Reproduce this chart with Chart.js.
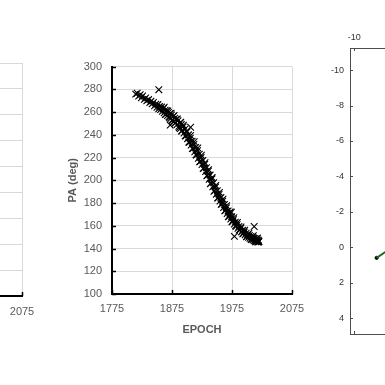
<!DOCTYPE html>
<html>
<head>
<meta charset="utf-8">
<script src="https://cdn.jsdelivr.net/npm/chart.js@4"></script>
<style>
  html, body { margin: 0; padding: 0; background: #fff; }
  body { width: 385px; height: 385px; position: relative; overflow: hidden; }
  canvas { position: absolute; }
</style>
</head>
<body>
<canvas id="leftChart" width="240" height="310" style="left:-200px;top:40px;"></canvas>
<canvas id="paChart" width="250" height="300" style="left:60px;top:50px;"></canvas>
<canvas id="orbitChart" width="400" height="330" style="left:300px;top:20px;"></canvas>
<script>
// --- Data ---

// middle panel: position angle vs epoch
const epochs = [
  1814.5, 1817, 1819.5, 1822, 1824, 1826, 1829, 1831, 1833, 1836,
  1838, 1840, 1842, 1844, 1846, 1848, 1850, 1851.5, 1853, 1854.5,
  1856, 1857.5, 1859, 1860.5, 1862, 1863.5, 1865, 1866, 1867.5, 1869,
  1870, 1871.5, 1873, 1874, 1875.5, 1877, 1878, 1879.5, 1881, 1882,
  1883.5, 1885, 1886.5, 1888, 1889, 1890.5, 1892, 1893.5, 1895, 1896.5,
  1898, 1899.5, 1901, 1902.5, 1904, 1905.5, 1907, 1908.5, 1910, 1911.5,
  1913, 1914.5, 1916, 1917.5, 1919, 1920.5, 1922, 1923.5, 1925, 1926.5,
  1928, 1929.5, 1931, 1932.5, 1934, 1935.5, 1937, 1938.5, 1940, 1941.5,
  1943, 1944.5, 1946, 1947.5, 1949, 1950.5, 1952, 1953.5, 1955, 1956.5,
  1958, 1959.5, 1961, 1962.5, 1964, 1965.5, 1967, 1968.5, 1970, 1971.5,
  1973, 1974.5, 1976, 1977.5, 1979, 1980.5, 1982, 1983.5, 1985, 1986.5,
  1988, 1989.5, 1991, 1992.5, 1994, 1995.5, 1997, 1998.5, 2000, 2001,
  2002.5, 2004, 2005, 2006.5, 2008, 2009, 2010, 2011, 2012, 2013,
  2014, 2015, 2016, 2017, 2018, 2019, 2020,
  // band edges
  1862, 1864, 1868, 1871, 1873.5, 1876, 1878.5, 1880, 1884, 1887,
  1889.5, 1891, 1894, 1897, 1900, 1903, 1906, 1909, 1912, 1915,
  1918, 1921, 1924, 1927, 1930, 1933, 1936, 1939, 1942, 1945,
  1948, 1951, 1954, 1957, 1960, 1963, 1966, 1969, 1972, 1975,
  1978, 1981, 1984, 1987, 1990, 1993, 1996, 1999, 2003, 2007,
  2010.5, 2014, 2017.5, 2019.5,
  // outliers
  1853, 1872, 1906, 1974, 1979, 2012
];
const paDeg = [
  275.8, 276.6, 274.0, 275.2, 272.6, 274.2, 271.2, 272.4, 270.0, 271.0,
  268.4, 269.6, 267.2, 268.4, 265.6, 267.0, 264.2, 266.6, 263.0, 265.0,
  262.2, 264.4, 260.6, 263.0, 259.4, 261.6, 258.2, 261.2, 257.0, 259.6,
  255.8, 258.6, 254.4, 257.4, 253.2, 256.2, 251.6, 254.6, 250.6, 253.8,
  249.0, 252.4, 247.4, 250.2, 245.6, 249.0, 243.8, 247.0, 241.6, 245.0,
  239.0, 242.4, 236.6, 240.0, 233.4, 237.0, 231.0, 234.4, 228.0, 231.6,
  225.0, 228.8, 222.2, 226.0, 219.4, 223.0, 216.6, 220.0, 213.8, 217.4,
  210.8, 214.0, 207.6, 211.0, 204.4, 208.0, 200.8, 204.6, 197.6, 201.2,
  194.2, 197.8, 191.0, 194.0, 187.8, 190.8, 184.6, 187.6, 181.8, 184.8,
  179.0, 181.6, 176.0, 178.8, 173.4, 175.8, 170.8, 173.0, 168.4, 170.4,
  166.0, 168.0, 163.8, 165.4, 161.6, 163.2, 159.6, 161.0, 157.8, 159.4,
  156.2, 157.6, 154.6, 156.0, 153.2, 154.6, 152.0, 153.4, 150.8, 152.4,
  149.8, 151.4, 149.0, 150.6, 148.2, 150.0, 147.6, 149.2, 147.0, 148.8,
  146.6, 148.4, 146.2, 147.6, 145.8, 147.4, 146.4,
  // band edges
  264.2, 257.8, 261.0, 255.0, 259.0, 252.6, 257.0, 250.4, 254.0, 246.2,
  251.0, 243.2, 248.4, 239.2, 243.4, 233.6, 239.4, 228.0, 234.0, 222.4,
  228.4, 216.2, 222.0, 210.4, 215.4, 204.0, 209.4, 197.0, 202.4, 190.4,
  195.4, 184.4, 189.4, 178.8, 183.4, 173.2, 177.6, 168.0, 172.2, 163.6,
  167.2, 160.0, 163.0, 156.2, 159.0, 153.0, 156.2, 150.4, 153.2, 148.0,
  151.2, 146.0, 149.2, 145.8,
  // outliers
  279.7, 248.5, 246.7, 172.0, 150.7, 159.4
];

// right panel: start of the orbit track (x, y in arcsec)
const orbitX = [-8.72, -8.27, -7.5];
const orbitY = [0.6, 0.3, -0.2];
const startX = [-8.72];
const startY = [0.6];

// tick labels / axis ranges
const epochRange = [1775, 2075];
const paRange = [100, 300];
const orbitYRange = [-11.25, 4.9];
const orbitXRange = [-10.24, 9.43];

const excelGrey = '#595959';
const excelFont = { family: 'Liberation Sans, Arial, sans-serif', size: 11 };
const plainNumber = v => String(v);

// --- ticks drawn inside the plot box (Excel "inside" / MATLAB style) ---
const insideTicks = {
    id: 'insideTicks',
    afterDraw(chart, args, opts) {
        const { ctx, chartArea: a, scales } = chart;
        ctx.save();
        ctx.strokeStyle = opts.color;
        ctx.lineWidth = opts.width;
        if (opts.box) {
            ctx.strokeRect(Math.round(a.left) + 0.5, Math.round(a.top) + 0.5,
                Math.round(a.right - a.left), Math.round(a.bottom - a.top));
        }
        ctx.beginPath();
        scales.y.ticks.forEach(t => {
            const py = Math.round(scales.y.getPixelForValue(t.value)) + 0.5;
            ctx.moveTo(a.left, py);
            ctx.lineTo(a.left + opts.len, py);
        });
        scales.x.ticks.forEach(t => {
            const px = Math.round(scales.x.getPixelForValue(t.value)) + 0.5;
            ctx.moveTo(px, a.bottom);
            ctx.lineTo(px, a.bottom - opts.len);
            if (opts.box) {
                ctx.moveTo(px, a.top);
                ctx.lineTo(px, a.top + opts.len);
            }
        });
        ctx.stroke();
        ctx.restore();
    }
};

// no label overhang: the layout padding alone places the plot area
const noOverhang = s => { s.paddingLeft = 0; s.paddingRight = 0; };

// --- left panel (only its right edge shows) ---
new Chart(document.getElementById('leftChart'), {
    type: 'scatter',
    data: { datasets: [] },
    options: {
        responsive: false,
        animation: false,
        layout: { padding: { top: 23, right: 18, left: 0, bottom: 0 } },
        plugins: { legend: { display: false }, tooltip: { enabled: false },
            insideTicks: { color: '#000', width: 1.5, len: 4, box: false } },
        scales: {
            x: {
                type: 'linear', min: epochRange[0], max: epochRange[1],
                ticks: { stepSize: 100, color: excelGrey, font: excelFont, padding: 9, maxRotation: 0, callback: plainNumber },
                grid: { color: '#d9d9d9', drawTicks: false },
                border: { color: '#000', width: 2 },
                afterFit: s => { s.height = 54; noOverhang(s); }
            },
            y: {
                min: 0, max: 9,
                ticks: { stepSize: 1, color: excelGrey, font: excelFont, padding: 10 },
                grid: { color: '#d9d9d9', drawTicks: false },
                border: { color: '#000', width: 2 },
                afterFit: s => { s.width = 42; }
            }
        }
    },
    plugins: [insideTicks]
});

// --- middle panel: PA vs EPOCH ---
new Chart(document.getElementById('paChart'), {
    type: 'scatter',
    data: {
        datasets: [{
            data: epochs.map((e, i) => ({ x: e, y: paDeg[i] })),
            pointStyle: 'crossRot',
            pointRadius: 4.7,
            borderColor: '#000',
            backgroundColor: '#000',
            borderWidth: 1.1
        }]
    },
    options: {
        responsive: false,
        animation: false,
        layout: { padding: { top: 14, right: 18, left: 0, bottom: 0 } },
        plugins: { legend: { display: false }, tooltip: { enabled: false },
            insideTicks: { color: '#000', width: 1.5, len: 4, box: false } },
        scales: {
            x: {
                type: 'linear', min: epochRange[0], max: epochRange[1],
                ticks: { stepSize: 100, color: excelGrey, font: excelFont, padding: 8, maxRotation: 0, callback: plainNumber },
                grid: { color: '#d9d9d9', drawTicks: false },
                border: { color: '#000', width: 2 },
                title: { display: true, text: 'EPOCH', color: excelGrey,
                    font: { ...excelFont, weight: 'bold' }, padding: { top: 4, bottom: 13 } },
                afterFit: s => { s.height = 56; noOverhang(s); }
            },
            y: {
                min: paRange[0], max: paRange[1],
                ticks: { stepSize: 20, color: excelGrey, font: excelFont, padding: 10 },
                grid: { color: '#d9d9d9', drawTicks: false },
                border: { color: '#000', width: 2 },
                title: { display: true, text: 'PA (deg)', color: excelGrey,
                    font: { ...excelFont, weight: 'bold' }, padding: { top: 6, bottom: 4 } },
                afterFit: s => { s.width = 52; }
            }
        }
    },
    plugins: [insideTicks]
});

// --- right panel: orbit plot (only its left strip shows) ---
const matlabFont = { family: 'Liberation Sans Narrow, Liberation Sans, Arial, sans-serif', size: 9 };
new Chart(document.getElementById('orbitChart'), {
    type: 'scatter',
    data: {
        datasets: [{
            data: orbitX.map((x, i) => ({ x: x, y: orbitY[i] })),
            showLine: true,
            borderColor: '#1e6b1e',
            borderWidth: 2,
            pointRadius: 0
        }, {
            data: startX.map((x, i) => ({ x: x, y: startY[i] })),
            pointRadius: 1.6,
            backgroundColor: '#000',
            borderColor: '#000'
        }]
    },
    options: {
        responsive: false,
        animation: false,
        layout: { padding: { top: 0, right: 0, left: 0, bottom: 16 } },
        plugins: { legend: { display: false }, tooltip: { enabled: false },
            insideTicks: { color: '#4d4d4d', width: 1, len: 3, box: true } },
        scales: {
            x: {
                type: 'linear', position: 'top',
                min: orbitXRange[0], max: orbitXRange[1],
                ticks: { stepSize: 2, includeBounds: false, color: '#333', font: matlabFont, padding: 5, maxRotation: 0 },
                grid: { display: false, drawTicks: false },
                border: { display: false },
                afterFit: s => { s.height = 28; noOverhang(s); }
            },
            y: {
                reverse: true,
                min: orbitYRange[0], max: orbitYRange[1],
                ticks: { stepSize: 2, includeBounds: false, color: '#333', font: matlabFont, padding: 6 },
                grid: { display: false, drawTicks: false },
                border: { display: false },
                afterFit: s => { s.width = 50; }
            }
        }
    },
    plugins: [insideTicks]
});
</script>
</body>
</html>
